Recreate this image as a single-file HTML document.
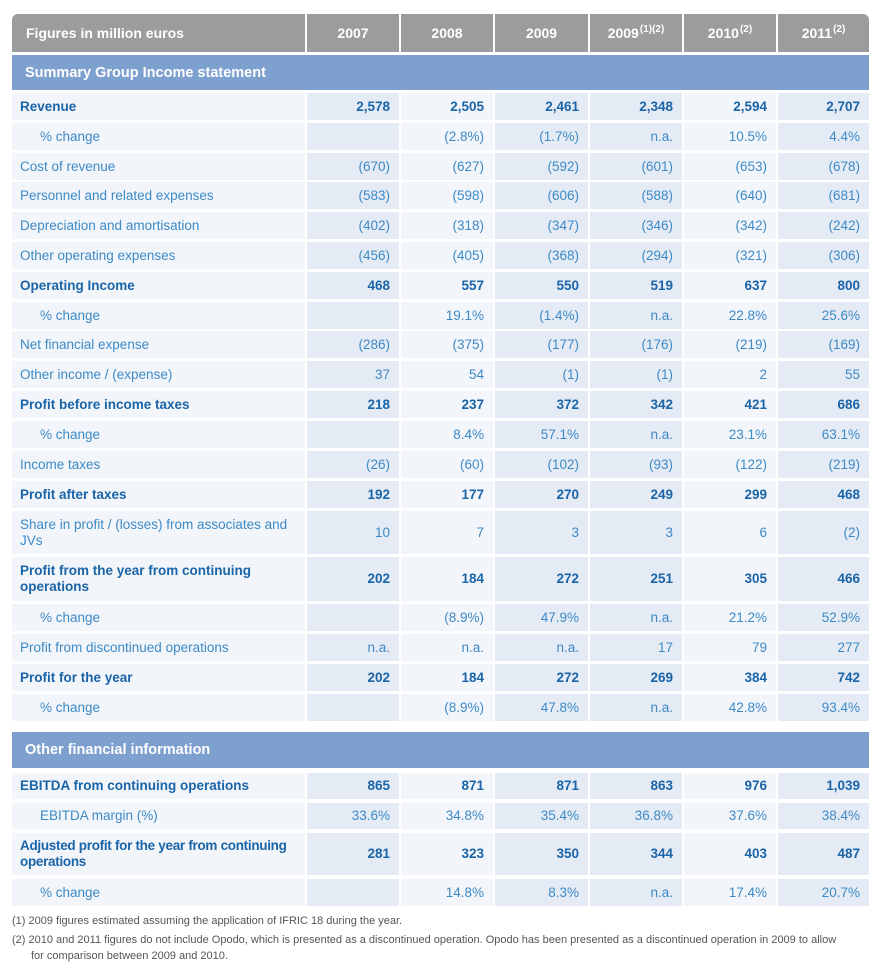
<!DOCTYPE html>
<html><head><meta charset="utf-8"><style>
*{margin:0;padding:0;box-sizing:border-box}
body{width:882px;height:970px;background:#fff;font-family:"Liberation Sans",sans-serif;position:relative;overflow:hidden}
.r{position:absolute;left:12px;display:grid;grid-template-columns:293px 92px 92px 93px 92px 92px 91px;column-gap:2px}
.r>div{display:flex;align-items:center;justify-content:flex-end;padding-right:9px;font-size:13.5px;color:#3d8ac6;line-height:16px}
.r>div:nth-child(1){justify-content:flex-start;padding-left:8px;padding-right:6px;background:#f2f5fa}
.r>div:nth-child(2),.r>div:nth-child(4),.r>div:nth-child(5),.r>div:nth-child(7){background:#e5ebf5}
.r>div:nth-child(3),.r>div:nth-child(6){background:#f2f5fa}
.r.b>div{font-weight:bold;color:#1a64a8}
.r.i>div:nth-child(1){padding-left:28px}
.h{position:absolute;left:12px;top:14px;height:38px;border-radius:6px 6px 0 0;overflow:hidden;display:grid;grid-template-columns:293px 92px 92px 93px 92px 92px 91px;column-gap:2px;background:#fff;width:857px}
.h>div{background:#9b9c9e;color:#fff;font-weight:bold;font-size:14px;display:flex;align-items:center;justify-content:center}
.h>div:first-child{justify-content:flex-start;padding-left:14px}
.h sup{font-size:10px;vertical-align:0;position:relative;top:-6px;margin-left:1px;line-height:0}
.s{position:absolute;left:12px;width:857px;background:#7ea0cf;color:#fff;font-weight:bold;font-size:14.5px;padding-left:13px;display:flex;align-items:center}
.dash{position:absolute;left:588px;width:2px;border-left:2px dashed #fff}
.f{position:absolute;left:12px;font-size:11px;color:#555;line-height:15px}
</style></head><body>
<div class="h"><div>Figures in million euros</div><div>2007</div><div>2008</div><div>2009</div><div><span>2009<sup>(1)(2)</sup></span></div><div><span>2010<sup>(2)</sup></span></div><div><span>2011<sup>(2)</sup></span></div></div>
<div class="s" style="top:55px;height:35px">Summary Group Income statement</div>

<div class="r b" style="top:93px;height:27px"><div>Revenue</div><div>2,578</div><div>2,505</div><div>2,461</div><div>2,348</div><div>2,594</div><div>2,707</div></div>
<div class="r i" style="top:123px;height:27px"><div>% change</div><div></div><div>(2.8%)</div><div>(1.7%)</div><div>n.a.</div><div>10.5%</div><div>4.4%</div></div>
<div class="r" style="top:153px;height:27px"><div>Cost of revenue</div><div>(670)</div><div>(627)</div><div>(592)</div><div>(601)</div><div>(653)</div><div>(678)</div></div>
<div class="r" style="top:182px;height:27px"><div>Personnel and related expenses</div><div>(583)</div><div>(598)</div><div>(606)</div><div>(588)</div><div>(640)</div><div>(681)</div></div>
<div class="r" style="top:212px;height:27px"><div>Depreciation and amortisation</div><div>(402)</div><div>(318)</div><div>(347)</div><div>(346)</div><div>(342)</div><div>(242)</div></div>
<div class="r" style="top:242px;height:27px"><div>Other operating expenses</div><div>(456)</div><div>(405)</div><div>(368)</div><div>(294)</div><div>(321)</div><div>(306)</div></div>
<div class="r b" style="top:272px;height:27px"><div>Operating Income</div><div>468</div><div>557</div><div>550</div><div>519</div><div>637</div><div>800</div></div>
<div class="r i" style="top:302px;height:27px"><div>% change</div><div></div><div>19.1%</div><div>(1.4%)</div><div>n.a.</div><div>22.8%</div><div>25.6%</div></div>
<div class="r" style="top:331px;height:27px"><div>Net financial expense</div><div>(286)</div><div>(375)</div><div>(177)</div><div>(176)</div><div>(219)</div><div>(169)</div></div>
<div class="r" style="top:361px;height:27px"><div>Other income / (expense)</div><div>37</div><div>54</div><div>(1)</div><div>(1)</div><div>2</div><div>55</div></div>
<div class="r b" style="top:391px;height:27px"><div>Profit before income taxes</div><div>218</div><div>237</div><div>372</div><div>342</div><div>421</div><div>686</div></div>
<div class="r i" style="top:421px;height:27px"><div>% change</div><div></div><div>8.4%</div><div>57.1%</div><div>n.a.</div><div>23.1%</div><div>63.1%</div></div>
<div class="r" style="top:451px;height:27px"><div>Income taxes</div><div>(26)</div><div>(60)</div><div>(102)</div><div>(93)</div><div>(122)</div><div>(219)</div></div>
<div class="r b" style="top:481px;height:27px"><div>Profit after taxes</div><div>192</div><div>177</div><div>270</div><div>249</div><div>299</div><div>468</div></div>
<div class="r" style="top:511px;height:43px"><div>Share in profit / (losses) from associates and JVs</div><div>10</div><div>7</div><div>3</div><div>3</div><div>6</div><div>(2)</div></div>
<div class="r b" style="top:557px;height:44px"><div style="padding-right:50px">Profit from the year from continuing operations</div><div>202</div><div>184</div><div>272</div><div>251</div><div>305</div><div>466</div></div>
<div class="r i" style="top:604px;height:27px"><div>% change</div><div></div><div>(8.9%)</div><div>47.9%</div><div>n.a.</div><div>21.2%</div><div>52.9%</div></div>
<div class="r" style="top:634px;height:27px"><div>Profit from discontinued operations</div><div>n.a.</div><div>n.a.</div><div>n.a.</div><div>17</div><div>79</div><div>277</div></div>
<div class="r b" style="top:664px;height:27px"><div>Profit for the year</div><div>202</div><div>184</div><div>272</div><div>269</div><div>384</div><div>742</div></div>
<div class="r i" style="top:694px;height:27px"><div>% change</div><div></div><div>(8.9%)</div><div>47.8%</div><div>n.a.</div><div>42.8%</div><div>93.4%</div></div>

<div class="s" style="top:732px;height:36px">Other financial information</div>
<div class="r b" style="top:773px;height:26px"><div>EBITDA from continuing operations</div><div>865</div><div>871</div><div>871</div><div>863</div><div>976</div><div>1,039</div></div>
<div class="r i" style="top:803px;height:26px"><div>EBITDA margin (%)</div><div>33.6%</div><div>34.8%</div><div>35.4%</div><div>36.8%</div><div>37.6%</div><div>38.4%</div></div>
<div class="r b" style="top:833px;height:42px"><div style="padding-right:0;letter-spacing:-0.3px">Adjusted profit for the year from continuing operations</div><div>281</div><div>323</div><div>350</div><div>344</div><div>403</div><div>487</div></div>
<div class="r i" style="top:879px;height:27px"><div>% change</div><div></div><div>14.8%</div><div>8.3%</div><div>n.a.</div><div>17.4%</div><div>20.7%</div></div>

<div class="dash" style="top:14px;height:38px"></div>
<div class="dash" style="top:93px;height:628px"></div>
<div class="dash" style="top:773px;height:133px"></div>

<div class="f" style="top:914px">(1) 2009 figures estimated assuming the application of IFRIC 18 during the year.</div>
<div class="f" style="top:933px">(2) 2010 and 2011 figures do not include Opodo, which is presented as a discontinued operation. Opodo has been presented as a discontinued operation in 2009 to allow</div>
<div class="f" style="top:949px;left:31px">for comparison between 2009 and 2010.</div>
</body></html>
